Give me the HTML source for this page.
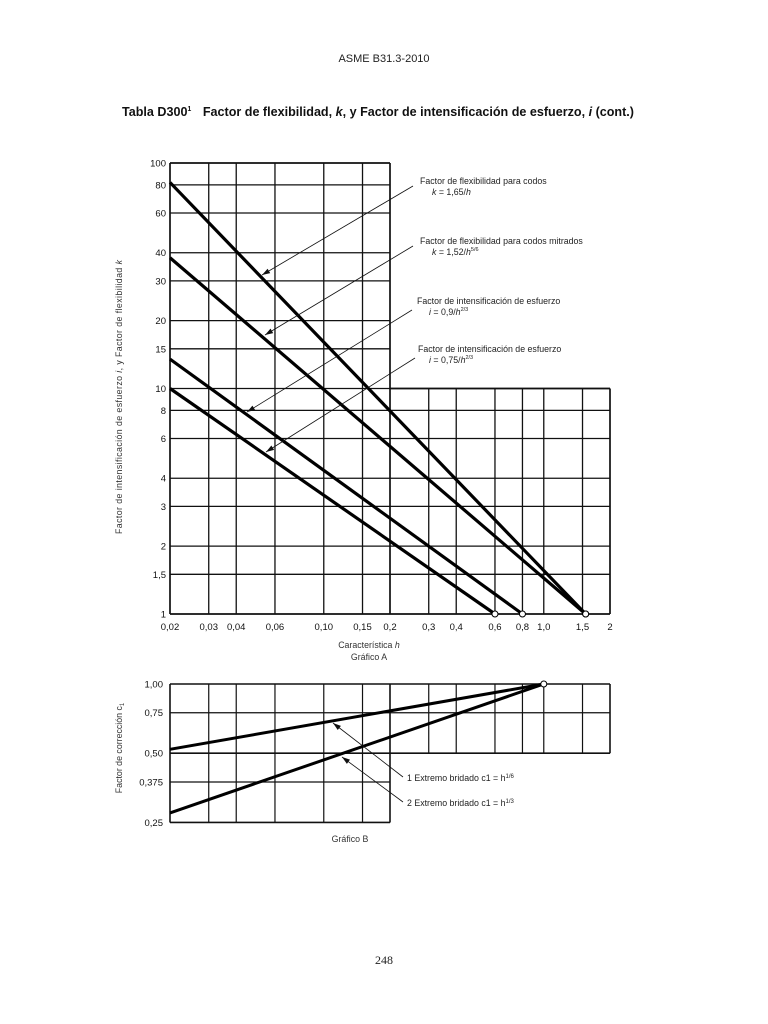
<!DOCTYPE html>
<html><head><meta charset="utf-8"><style>
html,body{margin:0;padding:0;background:#fff;}
svg{display:block;font-family:"Liberation Sans",sans-serif;}
</style></head><body>
<svg id="pg" width="768" height="1024" viewBox="0 0 768 1024">
<text x="384" y="62" text-anchor="middle" font-size="11" fill="#222">ASME B31.3-2010</text>
<text x="122" y="116" font-size="13" font-weight="bold" fill="#111" textLength="512" lengthAdjust="spacingAndGlyphs">Tabla D300<tspan font-size="7" dy="-5">1</tspan><tspan dy="5" dx="12">Factor de flexibilidad, </tspan><tspan font-style="italic">k</tspan>, y Factor de intensificación de esfuerzo, <tspan font-style="italic">i</tspan> (cont.)</text>
<g id="chartA"></g>
<g id="chartB"></g>
<text x="384" y="964" text-anchor="middle" font-size="12" font-family="Liberation Serif,serif" fill="#222">248</text>
</svg>
<script>
const NS="http://www.w3.org/2000/svg";
// Chart A data
const aXTicks=[0.02,0.03,0.04,0.06,0.10,0.15,0.2,0.3,0.4,0.6,0.8,1.0,1.5,2];
const aXLabels=["0,02","0,03","0,04","0,06","0,10","0,15","0,2","0,3","0,4","0,6","0,8","1,0","1,5","2"];
const aYTicks=[100,80,60,40,30,20,15,10,8,6,4,3,2,1.5,1];
const aYLabels=["100","80","60","40","30","20","15","10","8","6","4","3","2","1,5","1"];
const aSeriesH=[[0.02,1.55],[0.02,1.55],[0.02,0.8],[0.02,0.6]];
const aSeriesV=[[82,1],[38,1],[13.5,1],[10,1]];
// Chart B data
const bYTicks=[1.0,0.75,0.5,0.375,0.25];
const bYLabels=["1,00","0,75","0,50","0,375","0,25"];
const bSeriesH=[[0.02,1.0],[0.02,1.0]];
const bSeriesV=[[0.52,1.0],[0.275,1.0]];

const L=Math.log10;
const xA=h=>170+220*L(h/0.02);
const yA=v=>614-225.5*L(v);
const yB=v=>684-230*L(v);

function el(parent,tag,attrs,text){const e=document.createElementNS(NS,tag);for(const k in attrs)e.setAttribute(k,attrs[k]);if(text!==undefined)e.textContent=text;parent.appendChild(e);return e;}

const A=document.getElementById('chartA');
aYTicks.forEach((v,i)=>{const right=v>10?xA(0.2):xA(2);
 const g=el(A,'line',{x1:170,x2:right,y1:yA(v),y2:yA(v),stroke:'#111','stroke-width':(v==100||v==1)?1.7:1.3});
 
 
 const t=el(A,'text',{x:166,y:yA(v)+3.5,'text-anchor':'end','font-size':9.5,fill:'#111'},aYLabels[i]);
 
 
});
el(A,'line',{x1:xA(0.2),x2:xA(2),y1:yA(10),y2:yA(10),stroke:'#111','stroke-width':1.7});
aXTicks.forEach((h,i)=>{const top=h<=0.2?yA(100):yA(10);
 const g=el(A,'line',{x1:xA(h),x2:xA(h),y1:top,y2:yA(1),stroke:'#111','stroke-width':(h==0.02||h==2||h==0.2)?1.7:1.3});
 
 
 const t=el(A,'text',{x:xA(h),y:630,'text-anchor':'middle','font-size':9.5,fill:'#111'},aXLabels[i]);
 
 
});
aSeriesH.forEach((hs,s)=>{const vs=aSeriesV[s];
 const p=el(A,'polyline',{points:hs.map((h,j)=>xA(h)+','+yA(vs[j])).join(' '),fill:'none',stroke:'#000','stroke-width':3.2});
 
 
 const c=el(A,'circle',{cx:xA(hs[hs.length-1]),cy:yA(vs[vs.length-1]),r:3,fill:'#fff',stroke:'#000','stroke-width':1});
 
 
});
function arrow(parent,x1,y1,x2,y2,name){
 const g=el(parent,'g',{});
 
 
 el(g,'line',{x1,y1,x2,y2,stroke:'#111','stroke-width':0.8});
 const a=Math.atan2(y2-y1,x2-x1),l=8,w=2.6;
 const bx=x2-l*Math.cos(a),by=y2-l*Math.sin(a);
 el(g,'polygon',{points:`${x2},${y2} ${bx-w*Math.sin(a)},${by+w*Math.cos(a)} ${bx+w*Math.sin(a)},${by-w*Math.cos(a)}`,fill:'#111'});
}
arrow(A,413,186,262,275,'arrow-k-codos');
arrow(A,413,246,265,335,'arrow-k-mitrados');
arrow(A,412,310,247,412,'arrow-i-09');
arrow(A,415,358,266,452,'arrow-i-075');
const ann=[[420,184,'Factor de flexibilidad para codos'],[420,244,'Factor de flexibilidad para codos mitrados'],[417,304,'Factor de intensificación de esfuerzo'],[418,352,'Factor de intensificación de esfuerzo']];
ann.forEach(a=>{const t=el(A,'text',{x:a[0],y:a[1],'font-size':8.8,fill:'#222'},a[2]);});
A.insertAdjacentHTML('beforeend',
`<text x="432" y="195" font-size="8.8" fill="#222"><tspan font-style="italic">k</tspan> = 1,65/<tspan font-style="italic">h</tspan></text>
<text x="432" y="255" font-size="8.8" fill="#222"><tspan font-style="italic">k</tspan> = 1,52/<tspan font-style="italic">h</tspan><tspan font-size="5.5" dy="-4">5/6</tspan></text>
<text x="429" y="315" font-size="8.8" fill="#222"><tspan font-style="italic">i</tspan> = 0,9/<tspan font-style="italic">h</tspan><tspan font-size="5.5" dy="-4">2/3</tspan></text>
<text x="429" y="363" font-size="8.8" fill="#222"><tspan font-style="italic">i</tspan> = 0,75/<tspan font-style="italic">h</tspan><tspan font-size="5.5" dy="-4">2/3</tspan></text>
<text x="369" y="648" text-anchor="middle" font-size="8.8" fill="#333">Característica <tspan font-style="italic">h</tspan></text>
<text x="369" y="660" text-anchor="middle" font-size="8.8" fill="#333">Gráfico A</text>
<text transform="translate(122,397) rotate(-90)" text-anchor="middle" font-size="8.8" fill="#333" textLength="274" lengthAdjust="spacing">Factor de intensificación de esfuerzo <tspan font-style="italic">i</tspan>, y Factor de flexibilidad <tspan font-style="italic">k</tspan></text>`);

const B=document.getElementById('chartB');
bYTicks.forEach((v,i)=>{const right=v>=0.5?xA(2):xA(0.2);
 const g=el(B,'line',{x1:170,x2:right,y1:yB(v),y2:yB(v),stroke:'#111','stroke-width':(v==1||v==0.25||v==0.5)?1.6:1.2});
 
 
 const t=el(B,'text',{x:163,y:yB(v)+3.5,'text-anchor':'end','font-size':9.5,fill:'#111'},bYLabels[i]);
 
 
});
aXTicks.forEach(h=>{const bot=h<=0.2?yB(0.25):yB(0.5);
 const g=el(B,'line',{x1:xA(h),x2:xA(h),y1:yB(1),y2:bot,stroke:'#111','stroke-width':(h==0.02||h==2||h==0.2)?1.6:1.2});
 
 
});
bSeriesH.forEach((hs,s)=>{const vs=bSeriesV[s];
 const p=el(B,'polyline',{points:hs.map((h,j)=>xA(h)+','+yB(vs[j])).join(' '),fill:'none',stroke:'#000','stroke-width':3});
 
 
});
const cb=el(B,'circle',{cx:xA(1),cy:yB(1),r:3,fill:'#fff',stroke:'#000','stroke-width':1});


arrow(B,403,777,333,723,'arrow-c1-sixth');
arrow(B,403,802,342,757,'arrow-c1-third');
B.insertAdjacentHTML('beforeend',
`<text x="407" y="781" font-size="8.8" fill="#222">1 Extremo bridado c1 = h<tspan font-size="6" dy="-3">1/6</tspan></text>
<text x="407" y="806" font-size="8.8" fill="#222">2 Extremo bridado c1 = h<tspan font-size="6" dy="-3">1/3</tspan></text>
<text x="350" y="842" text-anchor="middle" font-size="8.8" fill="#333">Gráfico B</text>
<text transform="translate(122,748) rotate(-90)" text-anchor="middle" font-size="8.8" fill="#333">Factor de corrección c<tspan font-size="6" dy="2">1</tspan></text>`);
</script>
</body></html>
